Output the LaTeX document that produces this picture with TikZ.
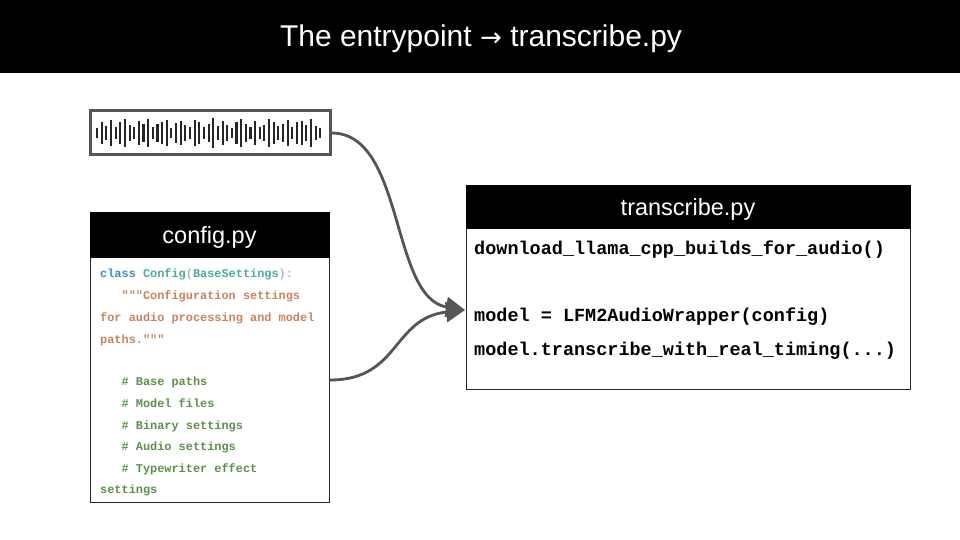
\documentclass[tikz,border=0pt]{standalone}
\usepackage{fontspec}
\setmainfont{Liberation Sans}
\newfontfamily\codefont{Liberation Mono}
\newfontfamily\arrowfont{DejaVu Sans}
\usetikzlibrary{arrows.meta}
\definecolor{linegray}{HTML}{555555}
\definecolor{kwblue}{HTML}{3E8FC0}
\definecolor{clsteal}{HTML}{4AAE9A}
\definecolor{docorange}{HTML}{C7845F}
\definecolor{cmtgreen}{HTML}{5E8F4E}
\definecolor{punctgray}{HTML}{B5B5B5}
\tikzset{
  headbar/.style={fill=black, draw=black, inner sep=0pt},
  headtext/.style={anchor=base, inner sep=0pt, text=white, font=\fontsize{23.5}{27}\selectfont},
  panel/.style={draw=black!85, line width=1pt, fill=white, inner sep=0pt},
  smallcode/.style={anchor=west, inner sep=0pt, text height=0.7em, text depth=0.2em, font=\codefont\bfseries\fontsize{11.9}{13}\selectfont},
  bigcode/.style={anchor=west, inner sep=0pt, text height=0.7em, text depth=0.2em, font=\codefont\bfseries\fontsize{18.5}{21}\selectfont},
  flow/.style={draw=linegray, line width=2.8pt, -{Triangle[length=19pt,width=20pt]}},
  wbar/.style={draw=black!85, line width=2.1pt}
}
\begin{document}
\begin{tikzpicture}[x=1pt,y=-1pt]
\useasboundingbox (0,0) rectangle (960,540);
\fill[white] (0,0) rectangle (960,540);
% title bar
\node[fill=black, minimum width=960pt, minimum height=73pt, inner sep=0pt, anchor=north west] (titlebar) at (0,0) {};
\node[text=white, anchor=base, inner sep=0pt, font=\fontsize{30}{34}\selectfont] (title) at (481,47) {The entrypoint {\arrowfont\fontsize{26}{30}\selectfont →} transcribe.py};

% waveform box
\node[draw=linegray, line width=3pt, minimum width=240pt, minimum height=44pt, inner sep=0pt] (wave) at (210,133) {};
\foreach \h [count=\i from 0] in {10,22,14,26,12,22,28,16,12,24,18,28,12,18,22,26,10,20,24,16,12,26,22,12,18,30,14,24,16,10,22,28,18,12,24,12,16,28,22,14,18,26,12,22,24,16,28,14,10}
  \draw[wbar] ({97+\i*4.65},{133-\h/2}) -- ({97+\i*4.65},{133+\h/2});

% config box
\node[panel, minimum width=239pt, minimum height=290pt, anchor=north west] (cfg) at (90,212) {};
\node[headbar, minimum width=239pt, minimum height=45pt, anchor=north west] (cfghead) at (90,212) {};
\node[headtext] (cfgtitle) at (209.5,243) {config.py};
\node[smallcode] (c1) at (100,275) {\textcolor{kwblue}{class} \textcolor{clsteal}{Config}\textcolor{punctgray}{(}\textcolor{clsteal}{BaseSettings}\textcolor{punctgray}{):}};
\node[smallcode, text=docorange] (c2) at (100,297) {\hspace*{3\fontcharwd\font`a}"""Configuration settings};
\node[smallcode, text=docorange] (c3) at (100,319) {for audio processing and model};
\node[smallcode, text=docorange] (c4) at (100,341) {paths."""};
\node[smallcode, text=cmtgreen] (c5) at (100,383) {\hspace*{3\fontcharwd\font`a}\# Base paths};
\node[smallcode, text=cmtgreen] (c6) at (100,405) {\hspace*{3\fontcharwd\font`a}\# Model files};
\node[smallcode, text=cmtgreen] (c7) at (100,427) {\hspace*{3\fontcharwd\font`a}\# Binary settings};
\node[smallcode, text=cmtgreen] (c8) at (100,448) {\hspace*{3\fontcharwd\font`a}\# Audio settings};
\node[smallcode, text=cmtgreen] (c9) at (100,470) {\hspace*{3\fontcharwd\font`a}\# Typewriter effect};
\node[smallcode, text=cmtgreen] (c10) at (100,491) {settings};

% transcribe box
\node[panel, minimum width=444pt, minimum height=204pt, anchor=north west] (tr) at (466,185) {};
\node[headbar, minimum width=444pt, minimum height=43pt, anchor=north west] (trhead) at (466,185) {};
\node[headtext] (trtitle) at (688,215) {transcribe.py};
\node[bigcode] (t1) at (474,252) {download\_llama\_cpp\_builds\_for\_audio()};
\node[bigcode] (t2) at (474,319) {model = LFM2AudioWrapper(config)};
\node[bigcode] (t3) at (474,353) {model.transcribe\_with\_real\_timing(...)};

% connectors
\coordinate (target) at (465,310);
\draw[flow] (wave.east) .. controls (405,133) and (390,298) .. (target);
\draw[flow] (cfg.east |- 0,380) .. controls (400,380) and (392,318) .. (target);
\end{tikzpicture}
\end{document}
